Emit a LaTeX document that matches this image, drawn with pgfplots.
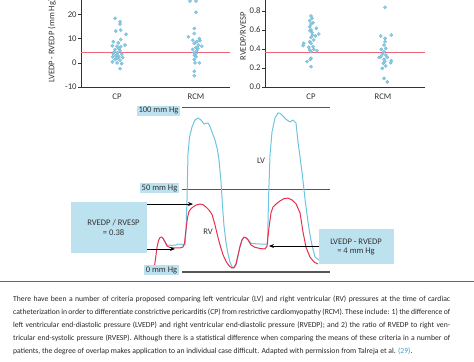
\documentclass[border=0pt]{standalone}
\usepackage{pgfplots}
\pgfplotsset{compat=1.18}
\usepackage{fontspec}
\setmainfont{Carlito}
\usetikzlibrary{arrows.meta}
\definecolor{dotblue}{HTML}{86CDEA}
\definecolor{refred}{HTML}{F0677A}
\definecolor{lvblue}{HTML}{6CC4E0}
\definecolor{rvred}{HTML}{E5304F}
\definecolor{boxblue}{HTML}{BCE2F0}
\definecolor{linegray}{HTML}{555555}
\definecolor{axgray}{HTML}{333333}
\definecolor{refblue}{HTML}{3B9FD6}
\newcommand{\lab}{\fontsize{8.6}{10}\selectfont}
\newcommand{\tlab}{\fontsize{8.7}{10}\selectfont}
\newcommand{\capf}{\fontsize{7.7}{8.5}\selectfont}
\pgfplotsset{
  scat/.style={scale only axis, anchor=south west, clip=false,
    axis x line=bottom, axis y line=left,
    axis line style={-, draw=axgray, line width=0.8pt},
    xtick={1,2}, xticklabels={CP,RCM},
    major tick length=3bp, tick align=outside,
    x tick style={draw=none}, y tick style={draw=axgray, line width=0.7pt},
    tick label style={font=\tlab, text=axgray},
    yticklabel style={inner xsep=1.2bp},
    /pgf/number format/assume math mode=true},
  dots/.style={only marks, mark=*, mark size=1.7bp, mark options={fill=dotblue, draw=dotblue!85!black, line width=0.2pt}}
}
\begin{document}
\begin{tikzpicture}[x=1bp,y=1bp]
% ---------------- top-left scatter ----------------
\begin{axis}[scat, at={(81bp,274bp)}, width=149bp, height=87bp,
  xmin=0.544, xmax=2.430, ymin=-10, ymax=26.1, ytick={-10,0,10,20}]
\addplot[dots] coordinates {
(0.975,18.5) (1.038,17.1) (1.038,16.1) (0.984,13.2) (1.047,13.6) (1.114,11.9)
(1.047,9.7) (0.953,8.8) (1.016,8.3) (1.101,7.4) (0.941,7.1) (1.0,6.9)
(1.047,6.7) (0.975,5.6) (1.038,5.0) (1.004,4.2) (0.953,3.9) (1.059,3.6)
(0.984,2.9) (1.025,2.5) (0.946,2.5) (1.072,2.2) (1.004,1.9) (0.975,1.4)
(1.038,1.1) (0.941,0.4) (1.0,0.0) (1.059,-0.3) (1.038,-2.4) (1.004,3.2)
(1.022,6.0) (0.966,4.6)};
\addplot[dots] coordinates {
(1.924,25.7) (2.0,25.7) (2.0,21.0) (1.978,14.3) (1.978,12.2) (1.903,10.8)
(2.042,10.1) (1.958,9.4) (2.051,9.2) (2.009,8.8) (1.978,8.1) (2.072,6.9)
(2.029,7.4) (2.0,6.4) (1.958,5.6) (2.009,5.0) (1.978,4.2) (1.978,3.2)
(2.0,2.5) (1.978,1.4) (1.987,0.0) (2.042,0.0) (1.978,-3.5) (1.978,-5.3)
(2.022,6.0) (2.0,3.9)};
\addplot[refred, line width=1pt] coordinates {(0.544,4.2) (2.430,4.2)};
\end{axis}
\node[rotate=90, anchor=west, font=\lab, text=axgray, inner sep=0] at (52,278) {LVEDP - RVEDP (mm Hg)};
% ---------------- top-right scatter ----------------
\begin{axis}[scat, at={(265bp,274bp)}, width=160bp, height=87bp,
  xmin=0.361, xmax=2.583, ymin=0, ymax=0.916, ytick={0,0.2,0.4,0.6,0.8},
  yticklabel style={/pgf/number format/.cd, fixed, fixed zerofill, precision=1}]
\addplot[dots] coordinates {
(1.0,0.747) (1.014,0.723) (0.982,0.698) (1.028,0.677) (1.0,0.663) (0.982,0.635)
(1.074,0.618) (1.0,0.600) (1.014,0.575) (1.107,0.558) (1.060,0.537) (1.0,0.523)
(1.038,0.495) (0.982,0.477) (0.899,0.460) (0.889,0.435) (1.0,0.460) (1.028,0.425)
(0.968,0.418) (1.038,0.396) (1.083,0.382) (1.0,0.372) (0.982,0.389) (1.0,0.302)
(0.944,0.267) (1.0,0.214) (0.990,0.291) (1.018,0.547) (0.986,0.593)};
\addplot[dots] coordinates {
(2.028,0.839) (1.968,0.537) (2.115,0.547) (2.028,0.512) (2.028,0.477) (2.014,0.442)
(2.038,0.407) (2.014,0.372) (1.990,0.347) (2.038,0.337) (1.968,0.319) (2.060,0.312)
(2.014,0.291) (2.115,0.277) (2.107,0.256) (2.004,0.249) (2.038,0.221) (1.990,0.196)
(2.014,0.091) (2.060,0.053) (1.944,0.312) (2.024,0.267) (1.976,0.396)};
\addplot[refred, line width=1pt] coordinates {(0.361,0.365) (2.583,0.365)};
\end{axis}
\node[rotate=90, font=\lab, text=axgray, inner sep=0] at (243,324.5) {RVEDP/RVESP};
% ---------------- waveform ----------------
\begin{axis}[at={(60bp,80.775bp)}, anchor=south west, scale only axis,
  width=340bp, height=180.95bp, xmin=60, xmax=400, ymin=-5, ymax=105,
  hide axis, clip=false]
\addplot[linegray, line width=1.3pt] coordinates {(182,100) (330,100)};
\addplot[linegray, line width=1.3pt] coordinates {(182,50) (330,50)};
\addplot[linegray, line width=1.5pt] coordinates {(182,0) (330,0)};
% LV
\addplot[lvblue, line width=1pt, line join=round] coordinates {
(163,20.5) (167,16.4) (172,16.2) (176,16.4) (178,17.0) (181,17.0) (183,16.4)
(185,16.4) (186,25) (187,43.8) (188,72) (189.5,82) (192,88.2) (195,92.4)
(198,93.6) (201,92.4) (204,90.0) (206,90.3) (208,90.6) (210,88.5) (212,85.1)
(215,80.2) (217.5,74.2) (219,68) (221,55) (222.5,40) (224,28) (226,18)
(228,11) (230,6) (232,3.2) (234,2.4) (236,4.2) (238,9.5) (240,15.5) (242,19.5)
(244,21.0) (246,20.8) (248,19.8) (251,17.4) (255,17.2) (260,17.0) (265,17.0)
(267.5,17.0) (268,30) (268.5,43.8) (270,71.1) (272,85.1) (275,93.6) (278,96.7)
(280,96.5) (282,95.4) (285,93.5) (287,92.4) (290,91.2) (293,92.4) (296,90.6)
(298,79.0) (300,70) (302,60.8) (305,44.4) (308,30.4) (310,22.5) (312,16.4)
(315,9.1) (319,7.3)};
% RV
\addplot[rvred, line width=1pt, line join=round] coordinates {
(154,1.5) (155.5,8) (157,15) (158.5,19.2) (160,21.0) (161.5,21.3) (163,20.5) (165,18.2)
(167,15.8) (170,14.9) (175,14.6) (180,14.6) (183,15.2) (184.5,17.6) (186,26)
(187.5,33) (189,36.8) (191,38.5) (193,39.5) (196,40.7) (200,41.3) (203,40.9)
(206,39.5) (209,37.7) (212,35.0) (215,28.6) (218,21) (220,16.4) (223,10.5)
(226,6.5) (229,3.8) (232,2.4) (234,2.8) (236,5) (238,10.3) (240,15.5) (242,19.5)
(244,21.2) (246,20.8) (248,19.5) (251,16.4) (255,15.0) (260,14.3) (265,14.0)
(267,15.8) (269,27) (271,36) (273,39.5) (276,41.3) (280,43.2) (284,44.6)
(288,44.9) (292,43.8) (296,41.5) (300,36) (303,24.3) (306,15) (310,9.1)
(314,6.1) (318,4.9)};
% labels
\node[fill=boxblue, inner sep=1.5bp, font=\lab, text=axgray] at (axis cs:158.5,97.9) {100 mm Hg};
\node[fill=boxblue, inner sep=1.5bp, font=\lab, text=axgray] at (axis cs:159.5,50.8) {50 mm Hg};
\node[fill=boxblue, inner sep=1.5bp, font=\lab, text=axgray] at (axis cs:161.5,1.2) {0 mm Hg};
\node[font=\lab, text=axgray] at (axis cs:261,67.5) {LV};
\node[font=\lab, text=axgray] at (axis cs:208,24.3) {RV};
% arrows
\draw[-{Stealth[length=5bp,width=4bp]}, line width=0.8pt, black] (axis cs:147,41.3) -- (axis cs:193,41.3);
\draw[-{Stealth[length=5bp,width=4bp]}, line width=0.8pt, black] (axis cs:147,14.0) -- (axis cs:175,14.0);
\draw[-{Stealth[length=5bp,width=4bp]}, line width=0.8pt, black] (axis cs:320,15.8) -- (axis cs:269,15.8);
% boxes
\fill[boxblue] (axis cs:71,42.6) rectangle (axis cs:147,11.6);
\node[font=\lab, text=axgray, align=center, inner sep=0] at (axis cs:113.5,27.1) {RVEDP / RVESP\\[-0.5bp]= 0.38};
\fill[boxblue] (axis cs:319,26.1) rectangle (axis cs:394,4.9);
\node[font=\lab, text=axgray, align=center, inner sep=0] at (axis cs:356,15.2) {LVEDP - RVEDP\\[-0.5bp]= 4 mm Hg};
\end{axis}
% ---------------- caption ----------------
\draw[linegray!90, line width=0.8pt] (0,80) -- (474,80);
\node[anchor=base west, inner sep=0, font=\capf, text=black!85] at (13,60) {\makebox[437bp][s]{There have been a number of criteria proposed comparing left ventricular (LV) and right ventricular (RV) pressures at the time of cardiac}};
\node[anchor=base west, inner sep=0, font=\capf, text=black!85] at (13,46.5) {\makebox[437bp][s]{catheterization in order to differentiate constrictive pericarditis (CP) from restrictive cardiomyopathy (RCM). These include: 1) the difference of}};
\node[anchor=base west, inner sep=0, font=\capf, text=black!85] at (13,33.5) {\makebox[437bp][s]{left ventricular end-diastolic pressure (LVEDP) and right ventricular end-diastolic pressure (RVEDP); and 2) the ratio of RVEDP to right ven-}};
\node[anchor=base west, inner sep=0, font=\capf, text=black!85] at (13,20.5) {\makebox[437bp][s]{tricular end-systolic pressure (RVESP). Although there is a statistical difference when comparing the means of these criteria in a number of}};
\node[anchor=base west, inner sep=0, font=\capf, text=black!85] at (13,7.5) {patients, the degree of overlap makes application to an individual case difficult. Adapted with permission from Talreja et al. \textcolor{refblue}{(29)}.};
\pgfresetboundingbox
\useasboundingbox (0,0) rectangle (474,361);
\end{tikzpicture}
\end{document}
